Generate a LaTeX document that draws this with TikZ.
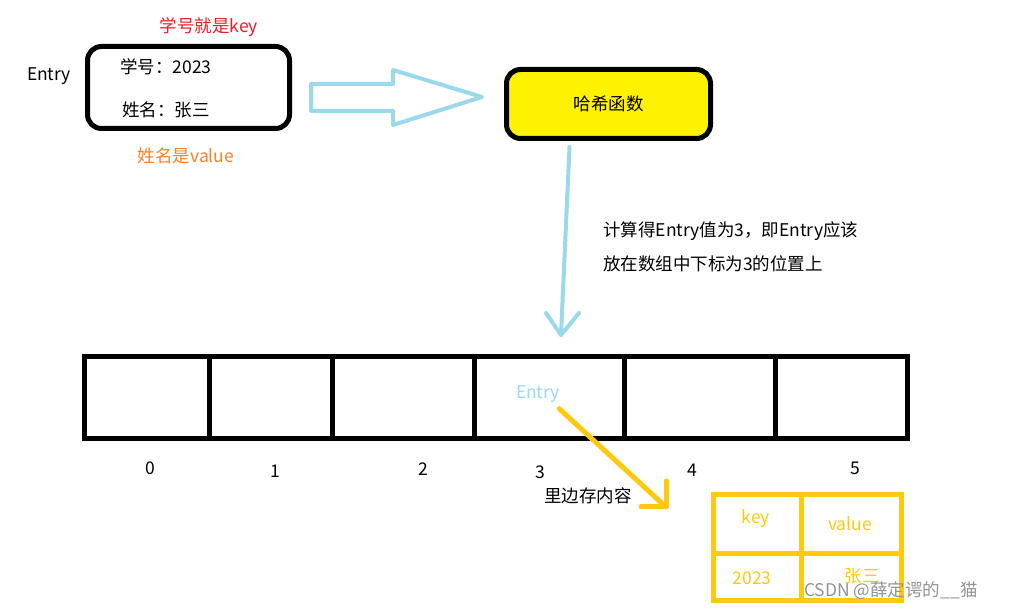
\documentclass[tikz,border=0pt]{standalone}
\usepackage{fontspec}
\setmainfont{Noto Sans CJK SC}
\usetikzlibrary{arrows.meta,calc}
\definecolor{kred}{HTML}{ED1C24}
\definecolor{korange}{HTML}{FF7F27}
\definecolor{kblue}{HTML}{99D9EA}
\definecolor{kyellow}{HTML}{FFF200}
\definecolor{kgold}{HTML}{FFC90E}
\begin{document}
\begin{tikzpicture}[x=1pt,y=-1pt,
  txt/.style={font=\fontsize{17.5}{21}\selectfont, inner sep=0pt},
  cell/.style={draw=black, line width=5pt, minimum height=82pt, inner sep=0pt, anchor=north west},
  kvcell/.style={draw=kgold, line width=5pt, inner sep=0pt, anchor=north west},
  rbox/.style={draw=black, line width=5pt, rounded corners=14pt, inner sep=0pt, anchor=north west},
  bluearrow/.style={kblue, line width=4pt, line cap=round, line join=round},
  goldarrow/.style={kgold, line width=5pt, line cap=round, line join=round}
]
\useasboundingbox (0,0) rectangle (1010,609);

% entry record
\node[rbox, minimum width=202pt, minimum height=82pt] (entry) at (85,44) {};
\node[txt] (entrylbl) at (49,76) {Entry};
\node[txt] (xh) at (166,67) {学号：2023};
\node[txt] (xm) at (166,110) {姓名：张三};
\node[txt, text=kred] (keynote) at (209,27) {学号就是key};
\node[txt, text=korange] (valnote) at (186,156) {姓名是value};

% hollow arrow
\draw[bluearrow] (311,84) -- (393,84) -- (393,70) -- (482,97) -- (393,125) -- (393,111) -- (311,111) -- cycle;

% hash function
\node[rbox, fill=kyellow, minimum width=204pt, minimum height=69pt, font=\fontsize{17.5}{21}\selectfont] (hash) at (504,67) {哈希函数};

% explanation
\node[txt, anchor=west] (exp1) at (603,231) {计算得Entry值为3，即Entry应该};
\node[txt, anchor=west] (exp2) at (603,264) {放在数组中下标为3的位置上};

% array
\node[cell, minimum width=125pt] (c0) at (82,354) {};
\node[cell, minimum width=123pt] (c1) at (207,354) {};
\node[cell, minimum width=142pt] (c2) at (330,354) {};
\node[cell, minimum width=150pt] (c3) at (472,354) {};
\node[cell, minimum width=151pt] (c4) at (622,354) {};
\node[cell, minimum width=132pt] (c5) at (773,354) {};

\node[txt, text=kblue] (entry3) at (538,394) {Entry};

\node[txt] (i0) at (150,468) {0};
\node[txt] (i1) at (275,471) {1};
\node[txt] (i2) at (423,469) {2};
\node[txt] (i3) at (540,472) {3};
\node[txt] (i4) at (692,470) {4};
\node[txt] (i5) at (855,468) {5};

% blue down arrow
\coordinate (btip) at (561,335);
\draw[bluearrow] ($(hash.south)+(-39,6)$) -- (btip);
\draw[bluearrow] (546,313) -- (btip) -- (579,313);

% gold arrow
\coordinate (otip) at (666,507);
\draw[goldarrow] ($(entry3.south east)+(-1,6)$) -- (otip);
\draw[goldarrow] (641,507) -- (otip) -- (666,481);
\node[txt] (inner) at (588,496) {里边存内容};

% key/value table
\node[kvcell, minimum width=88pt, minimum height=59pt] (k) at (711,492) {};
\node[kvcell, minimum width=100pt, minimum height=59pt] (v) at (799,492) {};
\node[kvcell, minimum width=88pt, minimum height=47pt] (kk) at (711,551) {};
\node[kvcell, minimum width=100pt, minimum height=47pt] (vv) at (799,551) {};
\node[txt, text=kgold] (klbl) at (756,519) {key};
\node[txt, text=kgold] (vlbl) at (850,524) {value};
\node[txt, text=kgold] (kval) at (752,578) {2023};
\node[txt, text=kgold] (vval) at (862,576) {张三};

% watermark
\node[txt, text=gray!85, anchor=west] (wm) at (804,591) {CSDN @薛定谔的\_\_猫};
\end{tikzpicture}
\end{document}
